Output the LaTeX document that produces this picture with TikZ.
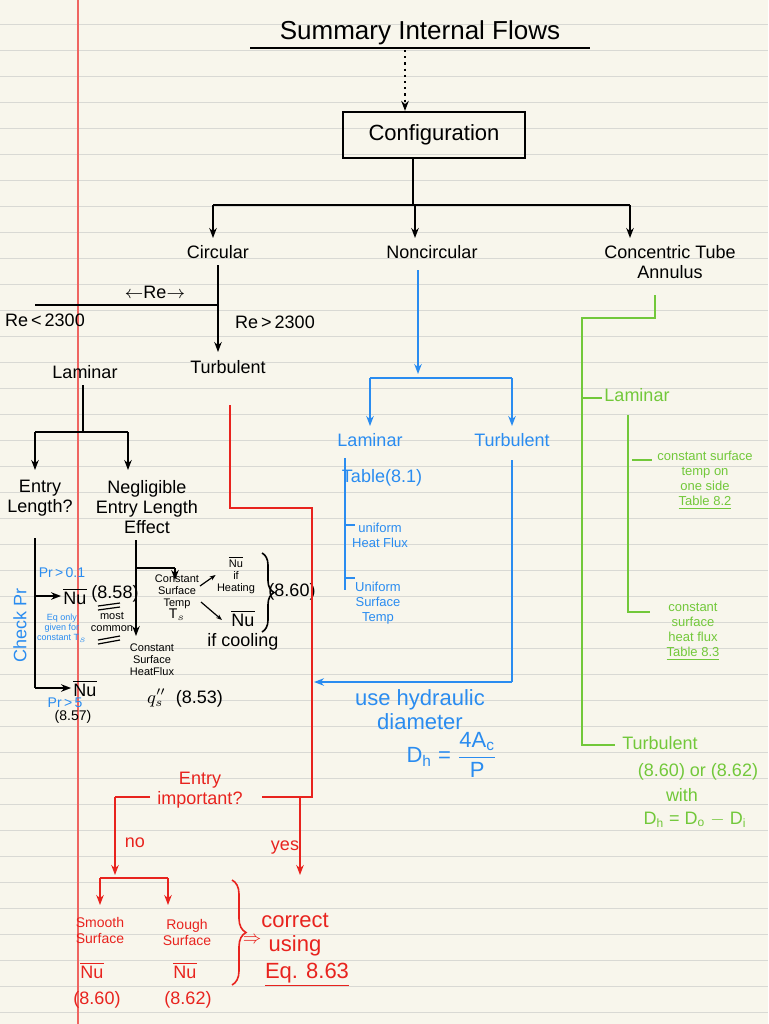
\documentclass[tikz,border=0pt]{standalone}
\usepackage{fontspec}
\setmainfont{Liberation Sans}
\usetikzlibrary{arrows.meta,decorations.pathreplacing}
\definecolor{paper}{HTML}{F8F6EC}
\definecolor{rule}{HTML}{D9D9D4}
\definecolor{ired}{HTML}{E8231E}
\definecolor{iblue}{HTML}{2A8CF0}
\definecolor{igreen}{HTML}{72C83A}
\begin{document}
\begin{tikzpicture}[x=0.5pt,y=-0.5pt,
  ln/.style={line width=1.1pt},
  ar/.style={line width=1.1pt,-{Stealth[length=5pt]}},
  t/.style={font=\fontsize{9}{10}\selectfont,align=center,inner sep=1pt},
  big/.style={font=\fontsize{11}{12}\selectfont,align=center,inner sep=1pt},
  sm/.style={font=\fontsize{5.5}{6}\selectfont,align=center,inner sep=0.5pt},
  R/.style={color=ired},B/.style={color=iblue},G/.style={color=igreen}]
\fill[paper] (0,0) rectangle (768,1024);
\useasboundingbox (0,0) rectangle (768,1024);
\foreach \y in {24,50,...,1020} \draw[rule,line width=0.4pt] (0,\y) -- (768,\y);
\draw[ired!70,line width=0.6pt] (78,0) -- (78,1024);
% title
\node[big,font=\fontsize{13}{14}\selectfont] (title) at (420,33) {Summary Internal Flows};
\draw[ln] (250,48) -- (590,48);
\coordinate (t0) at (405,50);
\node[draw,ln,minimum width=91pt,minimum height=23pt,big] (conf) at (434,135) {Configuration};
\draw[line width=1.1pt,dotted,-{Stealth[length=5pt]}] (t0) -- (conf.north -| t0);
\node[t] (circ) at (218,252) {Circular};
\node[t] (nonc) at (432,252) {Noncircular};
\node[t] (conc) at (670,262) {Concentric Tube\\Annulus};
\draw[ln] (413,158) -- (413,205);
\draw[ln] (213,205) -- (630,205);
\draw[ar] (213,205) -- (213,238);
\draw[ar] (415,205) -- (415,238);
\draw[ar] (630,205) -- (630,238);
% circular
\node[t] (re) at (155,292) {$\leftarrow$Re$\rightarrow$};
\node[t] (lam) at (85,372) {Laminar};
\node[t] (turb) at (228,367) {Turbulent};
\node[t] at (45,320) {Re\,<\,2300};
\node[t] at (275,322) {Re\,>\,2300};
\draw[ln] (218,265) -- (218,305);
\draw[ln] (35,305) -- (218,305);
\draw[ar] (218,305) -- (218,352);
\draw[ln] (83,385) -- (83,432);
\draw[ln] (35,432) -- (128,432);
\draw[ar] (35,432) -- (35,470);
\draw[ar] (128,432) -- (128,470);
\node[t] (entry) at (40,498) {Entry\\Length?};
\node[t] (negl) at (147,507) {Negligible\\Entry Length\\Effect};
% entry branch
\draw[ln] (35,538) -- (35,688);
\node[t] (nu1) at (75,596) {$\overline{\mathrm{Nu}}$};
\node[t] (nu2) at (85,688) {$\overline{\mathrm{Nu}}$};
\draw[ar] (35,596) -- (nu1.west);
\draw[ar] (35,688) -- (nu2.west);
\node[t] at (115,594) {(8.58)};
\node[sm,B,font=\fontsize{7}{8}\selectfont] at (62,573) {Pr\,>\,0.1};
\node[sm,B,font=\fontsize{4.5}{5}\selectfont] at (62,628) {Eq only\\given for\\constant T$_s$};
\node[t,B,rotate=90] at (20,625) {Check Pr};
\node[sm,B,font=\fontsize{7}{8}\selectfont] at (65,703) {Pr\,>\,5};
\node[sm,font=\fontsize{7}{8}\selectfont] at (73,717) {(8.57)};
\node[sm] (mc) at (112,622) {most\\common};
\draw[ln,line width=0.6pt] (98,606)--(120,603) (98,610)--(120,607) (98,640)--(120,636) (98,644)--(120,640);
% negligible branch
\draw[ar] (136,540) -- (136,636);
\draw[ln] (136,568) -- (175,568);
\draw[ar] (175,568) -- (175,580);
\node[sm] (cst) at (177,598) {Constant\\Surface\\Temp\\{\fontsize{7}{8}\selectfont T$_s$}};
\node[sm] (heat) at (236,575) {$\overline{\mathrm{Nu}}$\\if\\Heating};
\node[t] (cool) at (243,630) {$\overline{\mathrm{Nu}}$\\if cooling};
\draw[line width=0.6pt,-{Stealth[length=3pt]}] (200,586) -- (heat.west);
\draw[line width=0.6pt,-{Stealth[length=3pt]}] (201,602) -- (222,620);
\draw[ln,line width=0.8pt,decorate,decoration={brace,amplitude=6pt}] (262,553) -- (262,632);
\node[t] at (292,592) {(8.60)};
\node[sm] (chf) at (152,660) {Constant\\Surface\\HeatFlux};
\node[t] at (185,698) {$q''_s$ \ (8.53)};
% red
\draw[ln,R] (230,405) -- (230,508) -- (312,508) -- (312,797) -- (262,797);
\node[t,R] (ei) at (200,790) {Entry\\important?};
\draw[ln,R] (150,797) -- (115,797);
\draw[ar,R] (115,797) -- (115,875);
\draw[ar,R] (262,797) -- (300,797) -- (300,875);
\node[t,R] at (135,843) {no};
\node[t,R] at (285,848) {yes};
\draw[ln,R] (100,878) -- (168,878);
\draw[ar,R] (100,878) -- (100,905);
\draw[ar,R] (168,878) -- (168,905);
\node[sm,R,font=\fontsize{7}{8}\selectfont] (sm1) at (100,930) {Smooth\\Surface};
\node[sm,R,font=\fontsize{7}{8}\selectfont] (sm2) at (187,932) {Rough\\Surface};
\node[t,R] at (92,970) {$\overline{\mathrm{Nu}}$};
\node[t,R] at (185,970) {$\overline{\mathrm{Nu}}$};
\node[t,R] at (97,1000) {(8.60)};
\node[t,R] at (188,1000) {(8.62)};
\draw[ln,R,line width=0.8pt,decorate,decoration={brace,amplitude=7pt}] (232,880) -- (232,985);
\node[t,R] at (252,940) {$\Rightarrow$};
\node[big,R] (corr) at (295,935) {correct\\using};
\node[big,R] at (307,975) {\underline{Eq. 8.63}};
% blue
\draw[ar,B] (418,270) -- (418,374);
\draw[ln,B] (370,378) -- (512,378);
\draw[ar,B] (370,378) -- (370,426);
\draw[ar,B] (512,378) -- (512,426);
\node[t,B] (bl) at (370,440) {Laminar};
\node[t,B] (bt) at (512,440) {Turbulent};
\draw[ln,B,line width=0.8pt] (345,458) -- (345,590);
\draw[ln,B,line width=0.8pt] (345,525)--(355,525) (345,578)--(355,578);
\node[t,B] at (382,478) {Table(8.1)};
\node[sm,B,font=\fontsize{6.5}{7.5}\selectfont] at (380,535) {uniform\\Heat Flux};
\node[sm,B,font=\fontsize{6.5}{7.5}\selectfont] at (378,603) {Uniform\\Surface\\Temp};
\draw[ln,B] (512,460) -- (512,682);
\draw[ar,B] (512,682) -- (314,682);
\node[big,B] at (420,710) {use hydraulic\\diameter};
\node[big,B] at (452,755) {D$_\mathrm{h}$ = $\displaystyle\frac{\mathrm{4A_c}}{\mathrm{P}}$};
% green
\draw[ln,G] (655,295) -- (655,318) -- (582,318) -- (582,745) -- (615,745);
\draw[ln,G] (582,398) -- (602,398);
\node[t,G] (gl) at (637,395) {Laminar};
\draw[ln,G] (628,415) -- (628,612) -- (650,612);
\draw[ln,G] (632,460) -- (652,460);
\node[sm,G,font=\fontsize{6.5}{7.5}\selectfont] at (705,480) {constant surface\\temp on\\one side\\\underline{Table 8.2}};
\node[sm,G,font=\fontsize{6.5}{7.5}\selectfont] at (693,632) {constant\\surface\\heat flux\\\underline{Table 8.3}};
\node[t,G] (gt) at (660,743) {Turbulent};
\node[t,G] at (698,772) {(8.60) or (8.62)};
\node[t,G] at (682,795) {with};
\node[t,G] at (695,820) {D$_\mathrm{h}$ = D$_\mathrm{o}$ $-$ D$_\mathrm{i}$};
\end{tikzpicture}
\end{document}
